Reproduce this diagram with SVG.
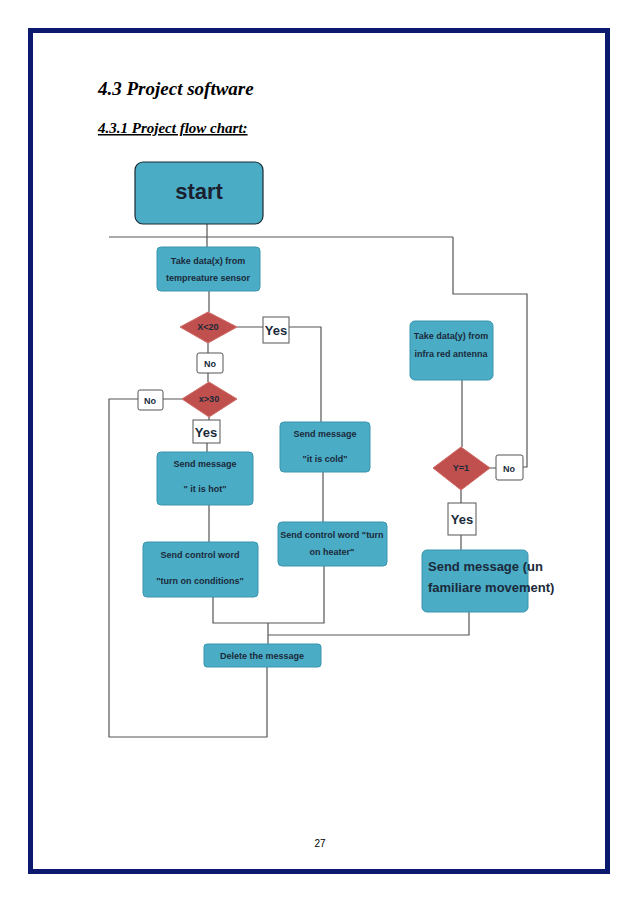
<svg xmlns="http://www.w3.org/2000/svg" width="638" height="903" viewBox="0 0 638 903">
<style>
.box{fill:#4bacc6;stroke:#3a95ad;stroke-width:1}
.dia{fill:#c0504d;stroke:#d06a66;stroke-width:1}
.lbl{fill:#fff;stroke:#555;stroke-width:1}
.ln{fill:none;stroke:#555;stroke-width:1.2}
.t{font-family:"Liberation Sans Narrow","Liberation Sans",sans-serif;font-size:9px;fill:#1a2a3a;text-anchor:middle;font-weight:bold}
.tl{font-family:"Liberation Sans Narrow","Liberation Sans",sans-serif;font-size:13px;fill:#1a2a3a;font-weight:bold}
.h{font-family:"Liberation Serif",serif;font-style:italic;font-weight:bold;fill:#000}
</style>
<rect width="638" height="903" fill="#fff"/>
<rect x="30.5" y="30.5" width="577" height="841" fill="none" stroke="#0b1a6e" stroke-width="5"/>
<text class="h" x="98" y="95" font-size="19">4.3  Project software</text>
<text class="h" x="98" y="133" font-size="15" text-decoration="underline">4.3.1  Project flow chart:</text>
<text x="320" y="847" font-family="Liberation Sans,sans-serif" font-size="10" text-anchor="middle">27</text>
<g id="connectors">
<path class="ln" d="M207 224V247M109 237H453M209 291V312M237 327H263M289 327H321V422M208 343V353M208 373V382M182 399H163M138 399H109V737H267V667M209 417V420M207 443V452M209 505V542M323 472V522M213 597V623H324V566M268 623V644M268 635H469V612M453 237V294H527V467H523M462 380V447M490 468H496M461 490V503M461 535V550"/>
</g>
<g id="start"><rect x="135" y="162" width="128" height="62" rx="8" fill="#4bacc6" stroke="#1b2a33" stroke-width="1.2"/><text x="199" y="199" font-family="Liberation Sans Narrow,Liberation Sans,sans-serif" font-size="22" font-weight="bold" text-anchor="middle" fill="#1a2030">start</text></g>
<g id="take_x"><rect class="box" x="157" y="247" width="103" height="44" rx="4"/><text class="t" x="208" y="264">Take data(x) from</text><text class="t" x="208" y="281">tempreature sensor</text></g>
<g id="d_x20"><polygon class="dia" points="180,327 208,312 237,327 208,343"/><text class="t" x="208" y="330" font-weight="normal" font-size="8">X&lt;20</text></g>
<g id="yes1"><rect class="lbl" x="263" y="317" width="26" height="26"/><text class="tl" x="276" y="335" text-anchor="middle">Yes</text></g>
<g id="no1"><rect class="lbl" x="197" y="353" width="26" height="20" rx="2"/><text class="t" x="210" y="367" font-weight="normal">No</text></g>
<g id="d_x30"><polygon class="dia" points="182,399 209,382 237,399 209,417"/><text class="t" x="209" y="402" font-weight="normal" font-size="8" fill="#fff">x&gt;30</text></g>
<g id="no2"><rect class="lbl" x="138" y="390" width="25" height="20" rx="2"/><text class="t" x="150" y="404" font-weight="normal">No</text></g>
<g id="yes2"><rect class="lbl" x="193" y="420" width="27" height="23"/><text class="tl" x="206" y="437" text-anchor="middle">Yes</text></g>
<g id="hot"><rect class="box" x="157" y="452" width="96" height="53" rx="4"/><text class="t" x="205" y="467">Send message</text><text class="t" x="205" y="492">" it is hot"</text></g>
<g id="cold"><rect class="box" x="280" y="422" width="90" height="50" rx="4"/><text class="t" x="325" y="437">Send message</text><text class="t" x="325" y="462">"it is cold"</text></g>
<g id="cond"><rect class="box" x="143" y="542" width="115" height="55" rx="4"/><text class="t" x="200" y="558">Send control word</text><text class="t" x="200" y="584">"turn on conditions"</text></g>
<g id="heater"><rect class="box" x="278" y="522" width="109" height="44" rx="4"/><text class="t" x="332" y="538">Send control word "turn</text><text class="t" x="332" y="555">on heater"</text></g>
<g id="take_y"><rect class="box" x="410" y="321" width="83" height="59" rx="5"/><text class="t" x="451" y="339">Take data(y) from</text><text class="t" x="451" y="357">infra red antenna</text></g>
<g id="d_y1"><polygon class="dia" points="433,468 461,447 490,468 461,490"/><text class="t" x="461" y="471" font-weight="normal" font-size="7" fill="#fff">Y=1</text></g>
<g id="no3"><rect class="lbl" x="496" y="455" width="27" height="25" rx="2"/><text class="t" x="509" y="472" font-weight="normal" font-size="10">No</text></g>
<g id="yes3"><rect class="lbl" x="448" y="503" width="28" height="32"/><text class="tl" x="462" y="524" text-anchor="middle">Yes</text></g>
<g id="unfam"><rect class="box" x="422" y="550" width="106" height="62" rx="5"/><text class="tl" x="428" y="571" font-weight="normal" font-size="12">Send message (un</text><text class="tl" x="428" y="592" font-weight="normal" font-size="12">familiare movement)</text></g>
<g id="delete"><rect class="box" x="204" y="644" width="117" height="23" rx="3"/><text class="t" x="262" y="659">Delete the message</text></g>
</svg>
